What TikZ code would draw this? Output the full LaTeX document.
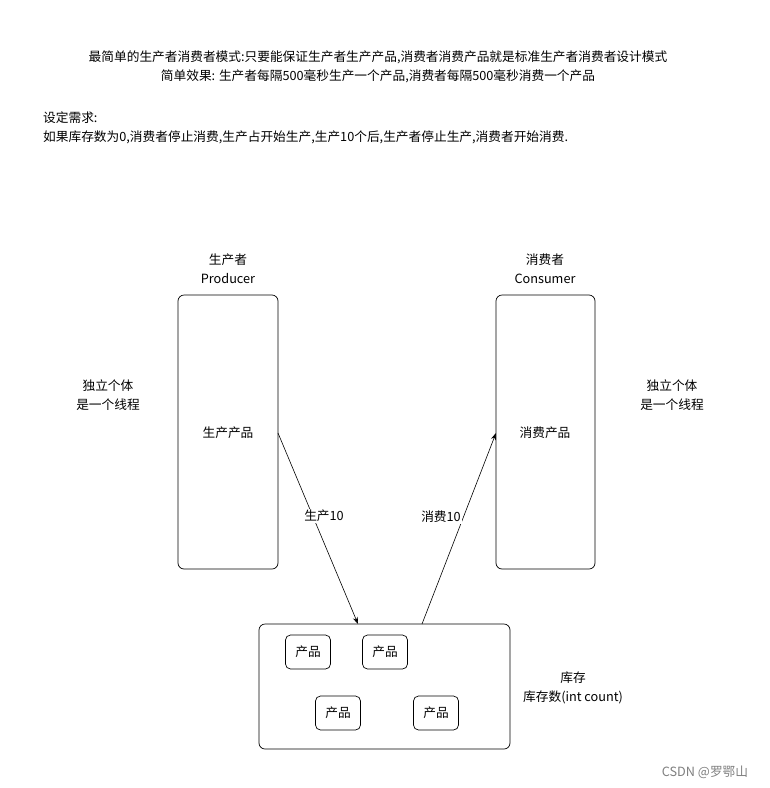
\documentclass[tikz,border=0pt]{standalone}
\usepackage{fontspec}
\setmainfont{Noto Sans CJK SC}
\usetikzlibrary{arrows.meta}
\begin{document}
\begin{tikzpicture}[x=1pt,y=-1pt,
  txt/.style={font=\fontsize{12.7}{19}\selectfont,align=center,inner sep=0},
  bigbox/.style={draw,rounded corners=6pt,line width=0.7pt},
  item/.style={draw,rounded corners=5pt,minimum width=45pt,minimum height=34pt,font=\fontsize{12.7}{14}\selectfont,line width=0.7pt},
  arr/.style={-{Stealth[length=7pt,width=5pt]},line width=0.6pt}]
\useasboundingbox[fill=white] (0,0) rectangle (770,788);
\node[txt] (t1) at (378,57) {最简单的生产者消费者模式:只要能保证生产者生产产品,消费者消费产品就是标准生产者消费者设计模式};
\node[txt] (t2) at (378,76) {简单效果: 生产者每隔500毫秒生产一个产品,消费者每隔500毫秒消费一个产品};
\node[txt,anchor=west] (t3) at (43,118) {设定需求:};
\node[txt,anchor=west] (t4) at (43,137) {如果库存数为0,消费者停止消费,生产占开始生产,生产10个后,生产者停止生产,消费者开始消费.};
\node[bigbox,minimum width=100pt,minimum height=274pt] (p) at (228,432) {};
\node[txt] (pt) at (228,433) {生产产品};
\node[txt] (pl) at (228,268.5) {生产者\\Producer};
\node[bigbox,minimum width=99pt,minimum height=274pt] (c) at (545.5,432) {};
\node[txt] (ct) at (545,433) {消费产品};
\node[txt] (cl) at (545,268.5) {消费者\\Consumer};
\node[txt] (l1) at (108,395.5) {独立个体\\是一个线程};
\node[txt] (l2) at (672,395.5) {独立个体\\是一个线程};
\node[bigbox,minimum width=251pt,minimum height=125pt] (s) at (384.5,686.5) {};
\node[item] (a1) at (308,652) {产品};
\node[item] (a2) at (385,652) {产品};
\node[item] (a3) at (338,713) {产品};
\node[item] (a4) at (436,713) {产品};
\node[txt] (sl) at (573,687.5) {库存\\库存数(int count)};
\coordinate (pa) at (278,433);
\coordinate (pb) at (358,624);
\coordinate (ca) at (422,624);
\coordinate (cb) at (496,433);
\draw[arr] (pa) -- (pb);
\draw[arr] (ca) -- (cb);
\node[txt,fill=white,inner sep=1pt] (e1) at (324,516) {生产10};
\node[txt,fill=white,inner sep=1pt] (e2) at (441,517) {消费10};
\node[txt,text=gray] (w) at (705,772) {CSDN @罗鄂山};
\end{tikzpicture}
\end{document}
